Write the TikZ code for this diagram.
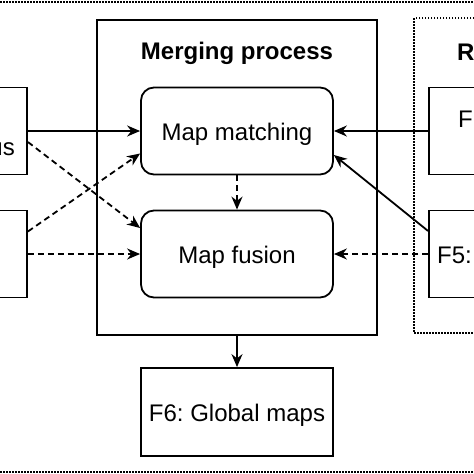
\documentclass[tikz,border=0pt]{standalone}
\usepackage{fontspec}
\setmainfont{Liberation Sans}
\usetikzlibrary{arrows.meta,calc}
\frenchspacing
\begin{document}
\begin{tikzpicture}[x=1pt,y=-1pt,
  box/.style={draw,line width=1.8pt,inner sep=0pt},
  cell/.style={box,minimum width=192pt,minimum height=87pt},
  rcell/.style={cell,rounded corners=13pt},
  lbl/.style={font=\fontsize{24}{28}\selectfont,inner sep=0pt},
  inlbl/.style={lbl,text height=19pt,text depth=0pt},
  ttl/.style={font=\fontsize{24}{28}\selectfont\bfseries,inner sep=0pt},
  sarrow/.style={line width=1.8pt,-{Stealth[length=13pt,width=11pt]}},
  darrow/.style={sarrow,dash pattern=on 6pt off 4pt},
  dotline/.style={line width=1.6pt,dash pattern=on 1.5pt off 1.5pt}
]
\useasboundingbox (0,0) rectangle (474,474);
\clip (0,0) rectangle (474,474);
% frames
\draw[dotline] (0,2) -- (474,2);
\draw[dotline] (0,472) -- (474,472);
\node[box,minimum width=280pt,minimum height=315pt] (mp) at (237,177.5) {};
\node[ttl,anchor=base] (mpt) at (237,59) {Merging process};
\node[box,dotline,minimum width=300pt,minimum height=315pt] (rp) at (564,175.5) {};
\node[ttl,anchor=base west] (rpt) at (457,60) {R};
% inner nodes
\node[rcell,inlbl] (mm) at (237,131) {Map matching};
\node[rcell,inlbl] (mf) at (237,254) {Map fusion};
\node[box,inlbl,minimum width=192pt,minimum height=88pt] (f6) at (237,412) {F6: Global maps};
% left boxes
\node[cell] (l1) at (-69,131) {};
\node[lbl,anchor=base east] (l1t) at (15,155) {us};
\node[cell] (l2) at (-69,254) {};
% right boxes
\node[cell] (r1) at (525,131) {};
\node[lbl,anchor=base west] (r1t) at (458,127) {F};
\node[cell] (r2) at (525,254) {};
\node[lbl,anchor=base west] (r2t) at (437,263) {F5:};
% connectors
\draw[sarrow] (l1.east) -- (mm.west);
\draw[darrow] ($(l1.east)+(0,11)$) -- ($(mf.west)+(0,-26)$);
\draw[darrow] ($(l2.east)+(0,-22.5)$) -- ($(mm.west)+(0,22.5)$);
\draw[darrow] (l2.east) -- (mf.west);
\draw[sarrow] (r1.west) -- (mm.east);
\draw[sarrow] ($(r2.west)+(0,-23)$) -- ($(mm.east)+(0,24)$);
\draw[darrow] (r2.west) -- (mf.east);
\draw[darrow] (mm.south) -- (mf.north);
\draw[sarrow] (mp.south) -- (f6.north);
\end{tikzpicture}
\end{document}
